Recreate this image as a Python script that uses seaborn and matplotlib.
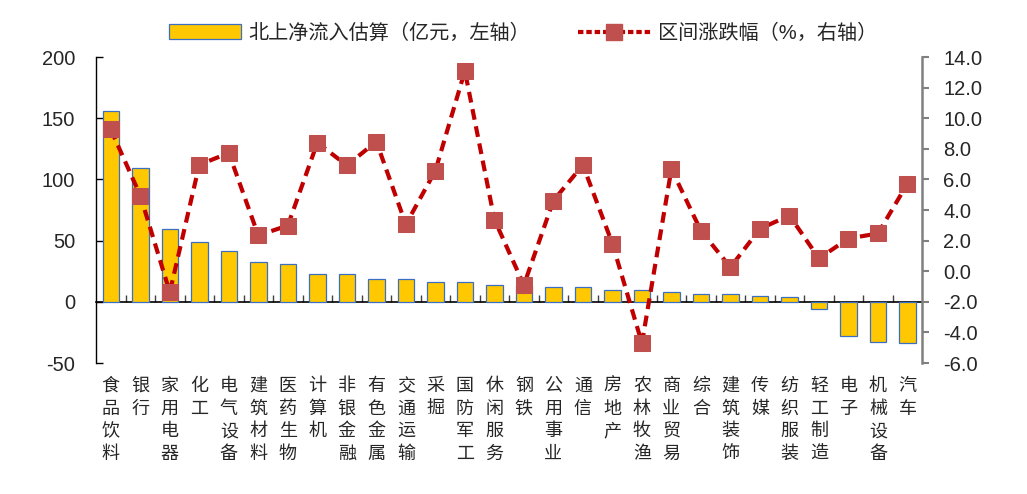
import numpy as np
import pandas as pd
import matplotlib
matplotlib.use('Agg')
import matplotlib.pyplot as plt
import matplotlib.patches as mpatches
from matplotlib.lines import Line2D
import seaborn as sns

sns.set_style('white')
plt.rcParams['font.family'] = ['Liberation Sans', 'Noto Sans CJK SC', 'DejaVu Sans']
plt.rcParams['axes.unicode_minus'] = False

# 行业
industries = ['食品饮料', '银行', '家用电器', '化工', '电气设备', '建筑材料', '医药生物',
              '计算机', '非银金融', '有色金属', '交通运输', '采掘', '国防军工', '休闲服务',
              '钢铁', '公用事业', '通信', '房地产', '农林牧渔', '商业贸易', '综合',
              '建筑装饰', '传媒', '纺织服装', '轻工制造', '电子', '机械设备', '汽车']
# 北上净流入估算（亿元）
net_inflow = [156, 109, 59.3, 49, 41.9, 32.4, 31, 23.1, 22.9, 18.8, 18.5, 16.6, 16,
              14.1, 13.3, 12, 12, 9.4, 9.5, 7.9, 6.3, 6.3, 4.4, 3.8, -6.0, -27.5,
              -32.9, -33.7]
# 区间涨跌幅（%）
pct_change = [9.27, 4.95, -1.37, 6.96, 7.73, 2.34, 2.99, 8.40, 6.92, 8.47, 3.06, 6.57,
              13.09, 3.38, -0.90, 4.62, 6.94, 1.80, -4.70, 6.68, 2.64, 0.26, 2.78, 3.64,
              0.84, 2.14, 2.47, 5.73]

df = pd.DataFrame({'industry': industries, 'flow': net_inflow, 'chg': pct_change,
                   'pos': np.arange(len(industries))})

BAR_COLOR = '#FFC800'
BAR_EDGE = '#3A6FC4'
LINE_COLOR = '#C00000'
MARK_COLOR = '#C0504D'

fig, ax = plt.subplots(figsize=(10.27, 4.94), dpi=100)
fig.subplots_adjust(left=0.0935, right=0.898, top=0.8846, bottom=0.265)

sns.barplot(data=df, x='pos', y='flow', color=BAR_COLOR, saturation=1,
            edgecolor=BAR_EDGE, linewidth=0.9, width=0.56, ax=ax)
ax.set_xlim(-0.5, len(industries) - 0.5)
ax.set_ylim(-50, 200)
ax.set_yticks(np.arange(-50, 201, 50))
ax.set_xlabel('')
ax.set_ylabel('')
ax.set_xticks(df['pos'])
ax.set_xticklabels(['\n'.join(s) for s in industries], fontsize=13,
                   family=['Noto Sans CJK SC'], linespacing=1.33)
ax.tick_params(axis='x', length=0, pad=10)
ax.tick_params(axis='y', direction='in', length=5, width=1, color='black',
               labelsize=14.5, pad=15)
for s in ['top', 'right', 'bottom']:
    ax.spines[s].set_visible(False)
ax.spines['left'].set_color('black')
ax.spines['left'].set_linewidth(1)

# zero line with category boundary ticks
zero = ax.secondary_xaxis(50 / 250)
zero.set_xticks(np.arange(0.5, len(industries) - 1, 1))
zero.tick_params(axis='x', direction='in', length=5, width=1, color='#404040',
                 labelbottom=False, labeltop=False)
zero.spines['bottom'].set_color('black')
zero.spines['top'].set_color('black')
zero.spines['bottom'].set_linewidth(1.2)

ax2 = ax.twinx()
sns.lineplot(data=df, x='pos', y='chg', sort=False, ax=ax2, color=LINE_COLOR,
             linewidth=3, linestyle=(0, (2.6, 1.6)), marker='s', markersize=11.5,
             markerfacecolor=MARK_COLOR, markeredgecolor=MARK_COLOR, alpha=1)
ax2.set_ylim(-6, 14)
ax2.set_yticks(np.arange(-6, 14.1, 2))
ax2.set_yticklabels([f'{v:.1f}' for v in np.arange(-6, 14.1, 2)])
ax2.set_ylabel('')
ax2.tick_params(axis='y', direction='out', length=5, width=1.5, color='#808080',
                labelsize=14.5, pad=10)
for s in ['top', 'left', 'bottom']:
    ax2.spines[s].set_visible(False)
ax2.spines['right'].set_color('#808080')
ax2.spines['right'].set_linewidth(1.8)

handles = [mpatches.Patch(facecolor=BAR_COLOR, edgecolor=BAR_EDGE, linewidth=0.9),
           Line2D([], [], color=LINE_COLOR, linewidth=3, linestyle=(0, (1.3, 0.7)),
                  marker='s', markersize=11.5, markerfacecolor=MARK_COLOR,
                  markeredgecolor=MARK_COLOR)]
labels = ['北上净流入估算（亿元，左轴）', '区间涨跌幅（%，右轴）']
fig.legend(handles, labels, loc='center', bbox_to_anchor=(0.509, 0.933), ncol=2,
           frameon=False, fontsize=14.5, handlelength=3.6, handleheight=0.75,
           handletextpad=0.35, columnspacing=2.4)

plt.savefig('out.png', dpi=100)
plt.close()
